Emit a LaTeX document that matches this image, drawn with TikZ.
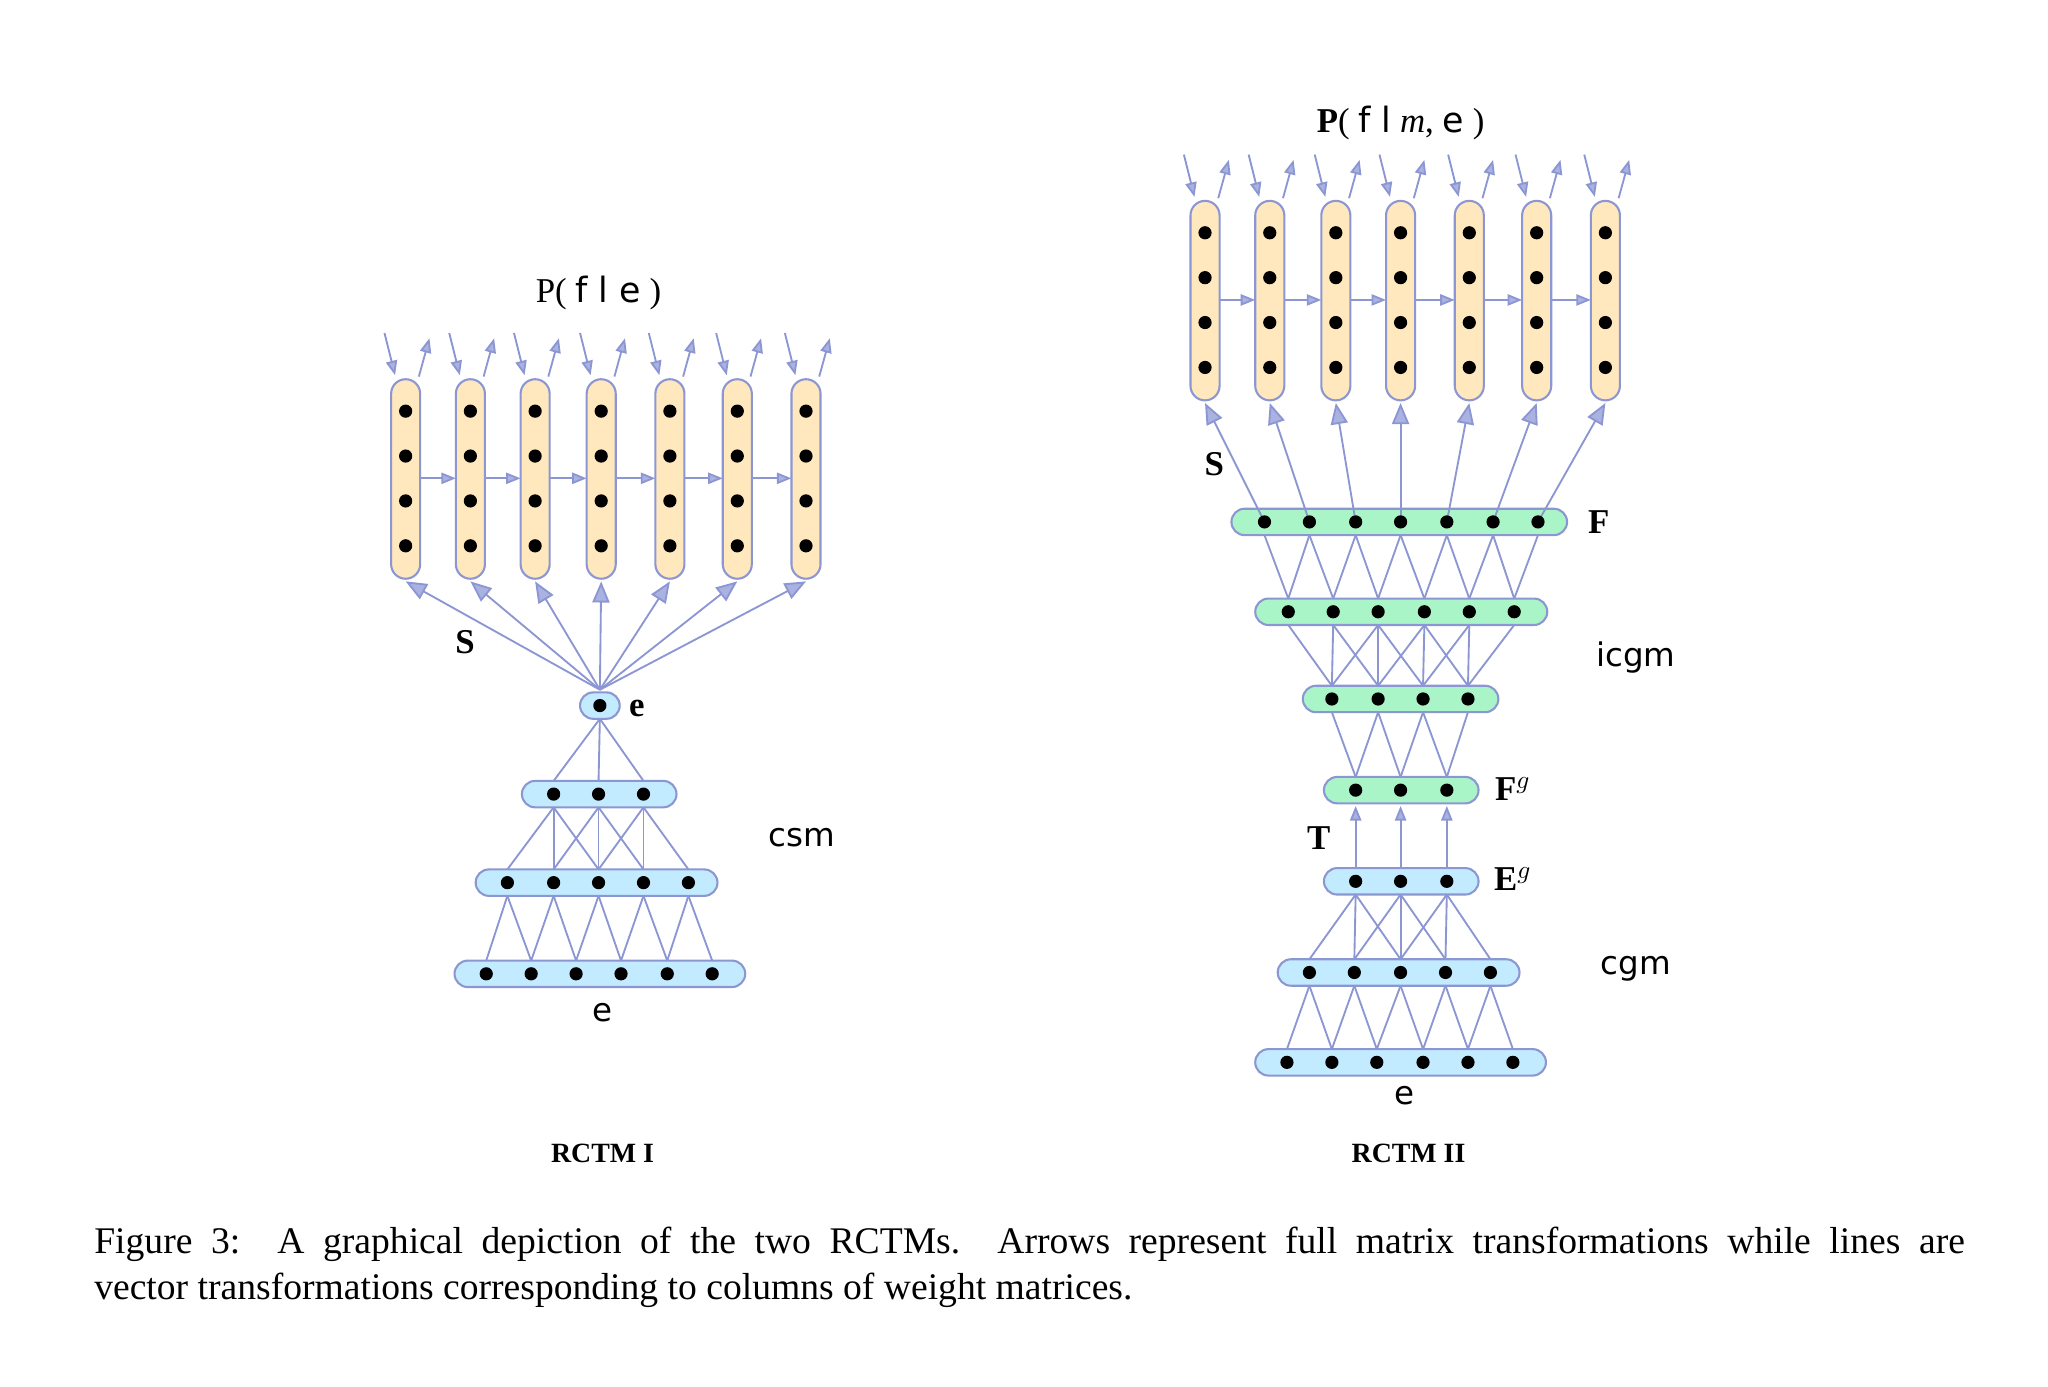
\documentclass[tikz,border=0pt]{standalone}
\usepackage{fontspec}
\setmainfont{Liberation Serif}
\setsansfont{DejaVu Sans}
\usetikzlibrary{arrows.meta}
\definecolor{ln}{RGB}{140,150,210}
\definecolor{af}{RGB}{170,178,225}
\definecolor{yel}{RGB}{255,232,190}
\definecolor{blu}{RGB}{195,235,255}
\definecolor{grn}{RGB}{170,245,200}
\tikzset{
 conn/.style={draw=ln,line width=0.8pt},
 big/.style={conn,-{Triangle[length=0.32cm,width=0.26cm,fill=af]}},
 small/.style={conn,-{Triangle[length=0.22cm,width=0.17cm,fill=af]}},
 bar/.style={draw=ln,line width=0.9pt,fill=yel,rounded corners=0.22cm},
 lay/.style={draw=ln,line width=0.9pt,rounded corners=0.2cm},
 dot/.style={circle,fill=black,inner sep=0pt,minimum size=0.2cm},
 lbl/.style={font=\fontsize{15}{18}\selectfont\bfseries},
 slbl/.style={font=\sffamily\fontsize{14}{17}\selectfont},
}
\begin{document}
\begin{tikzpicture}[x=0.02cm,y=-0.02cm]
\useasboundingbox (0,0) rectangle (1550,1049);
% ---------- generic bar columns
\def\bars#1#2#3{% list, top, bottom
 \foreach \x [count=\i] in {#1} {
  \draw[bar] (\x-11,#2) rectangle (\x+11,#3);
  \foreach \f in {0.16,0.385,0.61,0.835}
   \node[dot] at (\x,{#2+\f*(#3-#2)}) {};
  \draw[small] (\x-16,#2-35) -- (\x-8,#2-3);
  \draw[small] (\x+10,#2-2) -- (\x+18,#2-31);
 }}
% ================= LEFT
\bars{307,356,405,455,507,558,610}{287}{438}
\foreach \a/\b in {307/356,356/405,405/455,455/507,507/558,558/610}
 \draw[small] (\a+11,362) -- (\b-11,362);
\node[font=\fontsize{15}{18}\selectfont] (pl) at (453,222) {P( \textsf{f l e} )};
\draw[lay,fill=blu] (439,524) rectangle (469,544);
\node[dot] (e0) at (454,534) {};
\coordinate (etop) at (454,522);
\foreach \x in {307,356,405,455,507,558,610}
 \draw[big] (etop) -- (\x,440);
\node[lbl] (S1) at (352,486) {S};
\node[lbl] (e1) at (482,536) {e};
% layers
\draw[lay,fill=blu] (395,591) rectangle (512,611);
\draw[lay,fill=blu] (360,658) rectangle (543,678);
\draw[lay,fill=blu] (344,727) rectangle (564,747);
\def\La{{419,453,487}}
\def\Lb{{384,419,453,487,521}}
\def\Lc{{368,402,436,470,505,539}}
\foreach \i in {0,1,2}{
 \pgfmathsetmacro\xa{\La[\i]}
 \draw[conn] (454,544) -- (\xa,591);
 \foreach \d in {0,1,2}{
  \pgfmathsetmacro\xb{\Lb[\i+\d]}
  \draw[conn] (\xa,611) -- (\xb,658);}}
\foreach \i in {0,...,4}{
 \pgfmathsetmacro\xb{\Lb[\i]}
 \foreach \d in {0,1}{
  \pgfmathsetmacro\xc{\Lc[\i+\d]}
  \draw[conn] (\xb,678) -- (\xc,727);}}
\foreach \x in {419,453,487} \node[dot] at (\x,601) {};
\foreach \x in {384,419,453,487,521} \node[dot] at (\x,668) {};
\foreach \x in {368,402,436,470,505,539} \node[dot] at (\x,737) {};
\node[slbl] (el) at (456,766) {e};
\node[slbl] (csm) at (607,634) {csm};
\node[font=\fontsize{12}{14}\selectfont\bfseries] (r1) at (456,873) {RCTM I};
% ================= RIGHT
\bars{912,961,1011,1060,1112,1163,1215}{152}{303}
\foreach \a/\b in {912/961,961/1011,1011/1060,1060/1112,1112/1163,1163/1215}
 \draw[small] (\a+11,227) -- (\b-11,227);
\node[font=\fontsize{15}{18}\selectfont] (pr) at (1060,93) {\textbf{P}( \textsf{f l} \textit{m}, \textsf{e} )};
\draw[lay,fill=grn] (932,385) rectangle (1186,405);
\def\Fx{{957,991,1026,1060,1095,1130,1164}}
\foreach \x [count=\i from 0] in {912,961,1011,1060,1112,1163,1215}{
 \pgfmathsetmacro\xf{\Fx[\i]}
 \draw[big] (\xf,395) -- (\x,305);}
\node[lbl] (S2) at (919,351) {S};
\node[lbl] (F) at (1210,395) {F};
\draw[lay,fill=grn] (950,453) rectangle (1171,473);
\draw[lay,fill=grn] (986,519) rectangle (1134,539);
\draw[lay,fill=grn] (1002,588) rectangle (1119,608);
\draw[lay,fill=blu] (1002,657) rectangle (1119,677);
\draw[lay,fill=blu] (967,726) rectangle (1150,746);
\draw[lay,fill=blu] (950,794) rectangle (1170,814);
\def\Ax{{975,1009,1043,1078,1112,1146}}
\def\Bx{{1008,1043,1077,1111}}
\def\Gx{{1026,1060,1095}}
\def\Cx{{991,1025,1060,1094,1128}}
\def\Dx{{974,1008,1042,1077,1111,1145}}
\foreach \i in {0,...,5}{
 \pgfmathsetmacro\xa{\Ax[\i]}
 \foreach \d in {0,1}{
  \pgfmathsetmacro\xf{\Fx[\i+\d]}
  \draw[conn] (\xf,405) -- (\xa,453);}}
\foreach \i in {0,...,3}{
 \pgfmathsetmacro\xb{\Bx[\i]}
 \foreach \d in {0,1,2}{
  \pgfmathsetmacro\xa{\Ax[\i+\d]}
  \draw[conn] (\xa,473) -- (\xb,519);}}
\foreach \i in {0,1,2}{
 \pgfmathsetmacro\xg{\Gx[\i]}
 \foreach \d in {0,1}{
  \pgfmathsetmacro\xb{\Bx[\i+\d]}
  \draw[conn] (\xb,539) -- (\xg,588);}
 \draw[small] (\xg,657) -- (\xg,610);
 \foreach \d in {0,1,2}{
  \pgfmathsetmacro\xc{\Cx[\i+\d]}
  \draw[conn] (\xg,677) -- (\xc,726);}}
\foreach \i in {0,...,4}{
 \pgfmathsetmacro\xc{\Cx[\i]}
 \foreach \d in {0,1}{
  \pgfmathsetmacro\xd{\Dx[\i+\d]}
  \draw[conn] (\xc,746) -- (\xd,794);}}
\foreach \x in {957,991,1026,1060,1095,1130,1164} \node[dot] at (\x,395) {};
\foreach \x in {975,1009,1043,1078,1112,1146} \node[dot] at (\x,463) {};
\foreach \x in {1008,1043,1077,1111} \node[dot] at (\x,529) {};
\foreach \x in {1026,1060,1095} \node[dot] at (\x,598) {};
\foreach \x in {1026,1060,1095} \node[dot] at (\x,667) {};
\foreach \x in {991,1025,1060,1094,1128} \node[dot] at (\x,736) {};
\foreach \x in {974,1008,1042,1077,1111,1145} \node[dot] at (\x,804) {};
\node[slbl] (icgm) at (1238,498) {icgm};
\node[slbl] (cgm) at (1238,733) {cgm};
\node[lbl] (T) at (998,634) {T};
\node[lbl] (Fg) at (1145,597) {F$^{g}$};
\node[lbl] (Eg) at (1145,665) {E$^{g}$};
\node[slbl] (er) at (1063,829) {e};
\node[font=\fontsize{12}{14}\selectfont\bfseries] (r2) at (1066,873) {RCTM II};
% caption
\node[anchor=north west,inner sep=0pt,text width=28.32cm,align=justify,
 font=\fontsize{16.2}{20}\selectfont] (cap) at (71,928)
 {\hyphenpenalty=10000 Figure 3:\ \ A graphical depiction of the two RCTMs.\ \ Arrows represent full matrix transformations while lines are\linebreak vector transformations corresponding to columns of weight matrices.};
\end{tikzpicture}
\end{document}
